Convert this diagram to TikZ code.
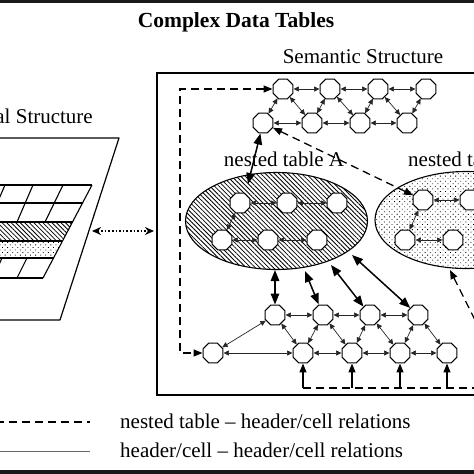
\documentclass[tikz,border=0pt]{standalone}
\usepackage{fontspec}
\setmainfont{Liberation Serif}
\usetikzlibrary{shapes.geometric,arrows.meta,patterns,patterns.meta}
\tikzset{
  cell/.style={regular polygon, regular polygon sides=8, draw, fill=white, line width=1.1pt, minimum size=21.5pt, inner sep=0pt},
  tab/.style={ellipse, draw, line width=1.1pt, minimum width=182pt, minimum height=97pt, inner sep=0pt},
  hh/.style={draw=black!85, line width=0.7pt, {Triangle[length=5.5pt,width=5pt]}-{Triangle[length=5.5pt,width=5pt]}},
  big/.style={line width=1.5pt, {Triangle[length=11pt,width=8.5pt]}-{Triangle[length=11pt,width=8.5pt]}},
  nt/.style={line width=1.3pt, dash pattern=on 8pt off 5pt},
  up/.style={line width=1.3pt, -{Triangle[length=9pt,width=7pt]}},
  lab/.style={font=\fontsize{21}{25}\selectfont, inner sep=0pt},
  hatch/.style={pattern={Lines[angle=-45,distance=3.2pt,line width=0.8pt]}},
  dots/.style={pattern={Dots[angle=45,distance=3.6pt,radius=0.6pt]}},
}

\begin{document}
\begin{tikzpicture}[x=1pt,y=-1pt]
  \useasboundingbox (0,0) rectangle (474,474);
  \clip (0,0) rectangle (474,474);

  % rules and headings
  \fill[black!90] (0,0) rectangle (474,2.5);
  \fill[black!90] (0,470) rectangle (474,474);
  \node[lab, font=\fontsize{21.5}{25}\selectfont\bfseries] (title) at (236,22) {Complex Data Tables};
  \node[lab] (semlab) at (363,57) {Semantic Structure};
  \node[lab, anchor=east] (physlab) at (93,118) {Physical Structure};

  % physical structure
  \draw[line width=1.2pt, line join=round] (-10,138) -- (119,138) -- (60,320) -- (-10,320);
  \def\gx#1{92-0.527*(#1-185)}
  \fill[hatch] (-10,222) -- ({\gx{222}},222) -- ({\gx{241}},241) -- (-10,241) -- cycle;
  \fill[dots] (-10,241) -- ({\gx{241}},241) -- ({\gx{258}},258) -- (-10,258) -- cycle;
  \foreach \y in {185,203,222,241,258,278}
    \draw[line width=1.1pt] (-10,\y) -- ({\gx{\y}},\y);
  \draw[line width=1.1pt] (92,185) -- (43,278);
  \draw[line width=1.1pt] (5,185) -- (-11,222);
  \draw[line width=1.1pt] (33,185) -- (17,222);
  \draw[line width=1.1pt] (63,185) -- (45,222);
  \draw[line width=1.1pt] (2,258) -- (-7,278);
  \draw[line width=1.1pt] (27,258) -- (17,278);

  \coordinate (phys) at (92,231);
  \coordinate (sem) at (154,231);
  \draw[dotted, line width=1.6pt, {Stealth[length=9pt,width=8pt]}-{Stealth[length=9pt,width=8pt]}] (phys) -- (sem);

  % semantic structure
  \draw[line width=1.3pt] (157,73) rectangle (490,395);

  \node[tab, hatch] (tabA) at (276.5,221) {};
  \node[tab, dots] (tabB) at (466,220) {};
  \node[lab] (labA) at (284,159) {nested table A};
  \node[lab, anchor=west] (labB) at (408,159) {nested table B};

  % header rows
  \node[cell] (A1) at (283,89) {};
  \node[cell] (A2) at (330,89) {};
  \node[cell] (A3) at (378,89) {};
  \node[cell] (A4) at (426,89) {};
  \node[cell] (B1) at (263,123) {};
  \node[cell] (B2) at (312,123) {};
  \node[cell] (B3) at (360,123) {};
  \node[cell] (B4) at (407,123) {};
  \foreach \a/\b in {A1/A2,A2/A3,A3/A4,B1/B2,B2/B3,B3/B4,A1/B1,A1/B2,A2/B2,A2/B3,A3/B3,A3/B4,A4/B4}
    \draw[hh] (\a) -- (\b);

  % cells of the nested tables
  \node[cell] (aN1) at (240,203) {};
  \node[cell] (aN2) at (287,203) {};
  \node[cell] (aN3) at (337,203) {};
  \node[cell] (aN4) at (222,240) {};
  \node[cell] (aN5) at (268,240) {};
  \node[cell] (aN6) at (317,240) {};
  \node[cell] (bN1) at (423,200) {};
  \node[cell] (bN2) at (470,200) {};
  \node[cell] (bN4) at (405,240) {};
  \node[cell] (bN5) at (453,240) {};
  \foreach \a/\b in {aN1/aN2,aN2/aN3,aN4/aN5,aN5/aN6,aN1/aN4,bN1/bN2,bN4/bN5,bN1/bN4}
    \draw[hh] (\a) -- (\b);

  % lower rows
  \node[cell] (C0) at (213,353) {};
  \node[cell] (C1) at (275,315) {};
  \node[cell] (C2) at (323,315) {};
  \node[cell] (C3) at (370,315) {};
  \node[cell] (C4) at (418,315) {};
  \node[cell] (D1) at (303,353) {};
  \node[cell] (D2) at (352,353) {};
  \node[cell] (D3) at (400,353) {};
  \node[cell] (D4) at (447,353) {};
  \foreach \a/\b in {C1/C2,C2/C3,C3/C4,D1/D2,D2/D3,D3/D4,C1/D1,C2/D1,C2/D2,C3/D2,C3/D3,C4/D3,C4/D4,C0/C1,C0/D1}
    \draw[hh] (\a) -- (\b);

  % table A to cells
  \coordinate (aTop) at (248,184);
  \coordinate (aS1) at (275,270);
  \coordinate (aS2) at (305,271);
  \coordinate (aS3) at (331,265);
  \coordinate (aS4) at (352,255);
  \draw[big] (B1) -- (aTop);
  \draw[big] (aS1) -- (C1);
  \draw[big] (aS2) -- (C2);
  \draw[big] (aS3) -- (C3);
  \draw[big] (aS4) -- (C4);

  % nested table relations
  \coordinate (lt) at (180,89);
  \coordinate (lb) at (180,353);
  \draw[nt, {Triangle[length=9pt,width=7pt]}-{Triangle[length=9pt,width=7pt]}] (A1) -- (lt) -- (lb) -- (C0);
  \draw[nt, {Triangle[length=9pt,width=7pt]}-{Triangle[length=9pt,width=7pt]}] (B1) -- (bN1);
  \coordinate (bS) at (450,270);
  \coordinate (bOut) at (483,336);
  \draw[nt, {Triangle[length=9pt,width=7pt]}-] (bS) -- (bOut);
  \coordinate (bot) at (303,388);
  \coordinate (botR) at (490,388);
  \draw[nt] (bot) -- (botR);
  \foreach \d in {D1,D2,D3,D4}
    \draw[up] (\d |- bot) -- (\d);

  % legend
  \coordinate (k1) at (-4,422);
  \coordinate (k2) at (90,422);
  \coordinate (k3) at (0,451);
  \coordinate (k4) at (90,451);
  \draw[nt] (k1) -- (k2);
  \draw[black!60, line width=0.8pt] (k3) -- (k4);
  \node[lab, anchor=west] (key1) at (120,421) {nested table -- header/cell relations};
  \node[lab, anchor=west] (key2) at (120,450) {header/cell -- header/cell relations};
\end{tikzpicture}
\end{document}
